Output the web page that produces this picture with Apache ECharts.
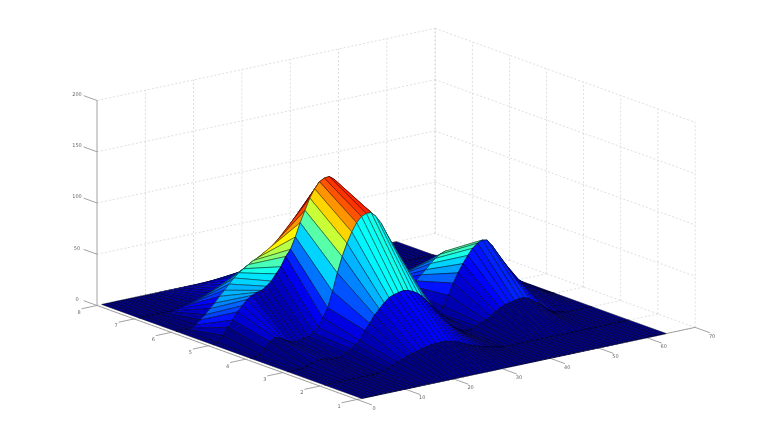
<!DOCTYPE html>
<html>
<head>
<meta charset="utf-8">
<style>html,body{margin:0;padding:0;background:#fff}#chart{width:768px;height:432px}</style>
<script src="https://cdn.jsdelivr.net/npm/echarts@6/dist/echarts.min.js"></script>
</head>
<body>
<div id="chart"></div>
<script>
// heights, one list per y row, x = 1..64
var row1 = [0,0,0,0,0,0,0,0,0,0,0,0,0,0,0,0,0,0,0,0,0,0,0,0,0,0,0,0,0,0,0,0,0,0,0,0,0,0,0,0,0,0,0,0,0,0,0,0,0,0,0,0,0,0,0,0,0,0,0,0,0,0,0,0];
var row2 = [0,0,0,0,0,0,0,0,0,0,0,0,1,3,5,7,9,10.5,12,13.5,15,16,17,17.5,17.5,17.5,16.5,15,13.5,11,9,7,5.5,4,3,2,1,0,0,0,0,0,0,0,0,0,0,0,0,0,0,0,0,0,0,0,0,0,0,0,0,0,0,0];
var row3 = [0,0,0,0,1,3,5,5,4,3,3,3,6,9,12,15,24,30,37,42,47,51,53,54,55,54,52,49,45,39,33,26,20,15,10,7,4,3,3,5,7,9,12,15,18,20,21,22,23,23,21,17,14.5,10,6,3,2,1,0,0,0,0,0,0];
var row4 = [0,0,1,6,12,15,14,11,8,7,7,8,9,11.5,16,24,33,48,65,80,92,102,110,115,117,117,112,105,95,85,73,62,52,43,35,28,20,13,7,5,10,20,31,40,48,55,61,65,67,66,60,52,44,36,28,23,19,15,13,10,7,4,2,0];
var row5 = [0,1,7,14,20,27,32,37,40,42,43,46,50,56,62,71,77,88,101,112,123,131,137,139.5,140,136.5,130,122,112,100,88,76,64,52,42,33,25,18,13,10,12,16,20,25,29,34,38,41,43,42,40,36,32,27,22,17,13,9,6,4,2,1,0,0];
var row6 = [0,0,0,0,2,6,10,15,19.5,25,30,35,40,44,47,50,53,55,58,60,63,66,70,74,79,84,90,96,104,100,92,85,75,65,55,45,35,26,18,12,8,6,5,5,6,7,8,9,9,8,7,5,4,3,2,1,0,0,0,0,0,0,0,0];
var row7 = [0,0,0,0,0,0,0,0,1,2,3,4,5,6,7,8.5,10,12,14.5,17,20,22,24,25,26,26,25,23,20,17,13,10,7,4,2,1,0,0,0,0,0,0,0,0,0,0,0,0,0,0,0,0,0,0,0,0,0,0,0,0,0,0];
var row8 = [0,0,0,0,0,0,0,0,0,0,0,0,0,0,0,0,0,0,0,0,0,0,0,0,0,0,0,0,0,0,0,0,0,0,0,0,0,0,0,0,0,0,0,0,0,0,0,0,0,0,0,0,0,0,0,0,0,0,0,0,0,0,0,0];
var rows = [row1, row2, row3, row4, row5, row6, row7, row8];

var xTicks = [0, 10, 20, 30, 40, 50, 60, 70];
var yTicks = [1, 2, 3, 4, 5, 6, 7, 8];
var zTicks = [0, 50, 100, 150, 200];
var zMax = 140;

// view of the box, the plane axes below are in page pixels
function project(x, y, z) {
    return [
        357 + 4.83 * x - 37.14 * (y - 1),
        399.5 - 1.03 * x - 13.43 * (y - 1) - 1.025 * z
    ];
}

function jet(v) {
    var t = Math.min(Math.floor(v / zMax * 64), 63) / 63;
    var c = function (o) {
        return Math.round(255 * Math.max(0, Math.min(1, 1.5 - Math.abs(4 * t - o))));
    };
    return 'rgb(' + c(3) + ',' + c(2) + ',' + c(1) + ')';
}

// back to front: far rows first, far columns first
var cells = [];
for (var j = rows.length - 2; j >= 0; j--) {
    for (var i = rows[j].length - 2; i >= 0; i--) {
        cells.push([i + 1, j + 1, rows[j][i], rows[j][i + 1], rows[j + 1][i + 1], rows[j + 1][i]]);
    }
}

var gridLines = [];
var axisLines = [];
var labels = [];
xTicks.forEach(function (x) {
    gridLines.push([x, 1, 0, x, 8, 0]);
    if (x > 0) gridLines.push([x, 8, 0, x, 8, 200]);
    axisLines.push([x, 1, 0, x, 0.6, 0]);
    labels.push([x, 1, 0, 17, 9, String(x)]);
});
yTicks.forEach(function (y) {
    gridLines.push([0, y, 0, 70, y, 0]);
    if (y < 8) gridLines.push([70, y, 0, 70, y, 200]);
    axisLines.push([0, y, 0, -3.2, y, 0]);
    labels.push([0, y, 0, -18, 7, String(y)]);
});
zTicks.forEach(function (z) {
    if (z > 0) {
        gridLines.push([0, 8, z, 70, 8, z]);
        gridLines.push([70, 8, z, 70, 1, z]);
    }
    axisLines.push([0, 8, z, 0, 8.36, z]);
    labels.push([0, 8, z, -20, -6, String(z)]);
});
gridLines.push([70, 8, 0, 70, 8, 200]);
axisLines.push([0, 8, 0, 0, 8, 200]);
axisLines.push([0, 1, 0, 0, 8, 0]);
axisLines.push([0, 1, 0, 70, 1, 0]);

function lineItem(api, style) {
    var a = api.coord(project(api.value(0), api.value(1), api.value(2)));
    var b = api.coord(project(api.value(3), api.value(4), api.value(5)));
    return {
        type: 'line',
        shape: { x1: a[0], y1: a[1], x2: b[0], y2: b[1] },
        style: style
    };
}

var myChart = echarts.init(document.getElementById('chart'));
myChart.setOption({
    animation: false,
    backgroundColor: '#fff',
    grid: { left: 0, right: 0, top: 0, bottom: 0 },
    xAxis: { type: 'value', min: 0, max: 768, show: false },
    yAxis: { type: 'value', min: 0, max: 432, inverse: true, show: false },
    series: [{
        name: 'grid',
        type: 'custom',
        z: 1,
        silent: true,
        data: gridLines,
        renderItem: function (params, api) {
            return lineItem(api, { stroke: '#d0d0d0', lineWidth: 0.7, lineDash: [2, 2] });
        }
    }, {
        name: 'axes',
        type: 'custom',
        z: 2,
        silent: true,
        data: axisLines,
        renderItem: function (params, api) {
            return lineItem(api, { stroke: '#8c8c8c', lineWidth: 0.8 });
        }
    }, {
        name: 'surface',
        type: 'custom',
        z: 3,
        silent: true,
        progressive: 0,
        data: cells,
        renderItem: function (params, api) {
            var x = api.value(0), y = api.value(1);
            var z = [api.value(2), api.value(3), api.value(4), api.value(5)];
            var points = [
                api.coord(project(x, y, z[0])),
                api.coord(project(x + 1, y, z[1])),
                api.coord(project(x + 1, y + 1, z[2])),
                api.coord(project(x, y + 1, z[3]))
            ];
            var color = jet(z[0]);
            // first polygon closes the antialias seams so no white shows through
            return {
                type: 'group',
                children: [{
                    type: 'polygon',
                    shape: { points: points },
                    style: { fill: color, stroke: color, lineWidth: 0.3 }
                }, {
                    type: 'polygon',
                    shape: { points: points },
                    style: { fill: 'none', stroke: 'rgba(0,0,0,0.85)', lineWidth: 0.5 }
                }]
            };
        }
    }, {
        name: 'labels',
        type: 'custom',
        z: 4,
        silent: true,
        data: labels,
        encode: { x: 0 },
        renderItem: function (params, api) {
            var item = labels[params.dataIndex];
            var p = api.coord(project(item[0], item[1], item[2]));
            return {
                type: 'text',
                style: {
                    text: item[5],
                    x: p[0] + item[3],
                    y: p[1] + item[4],
                    fill: '#666',
                    font: '5px "DejaVu Sans"',
                    textAlign: 'center',
                    textVerticalAlign: 'middle'
                }
            };
        }
    }]
});
</script>
</body>
</html>
